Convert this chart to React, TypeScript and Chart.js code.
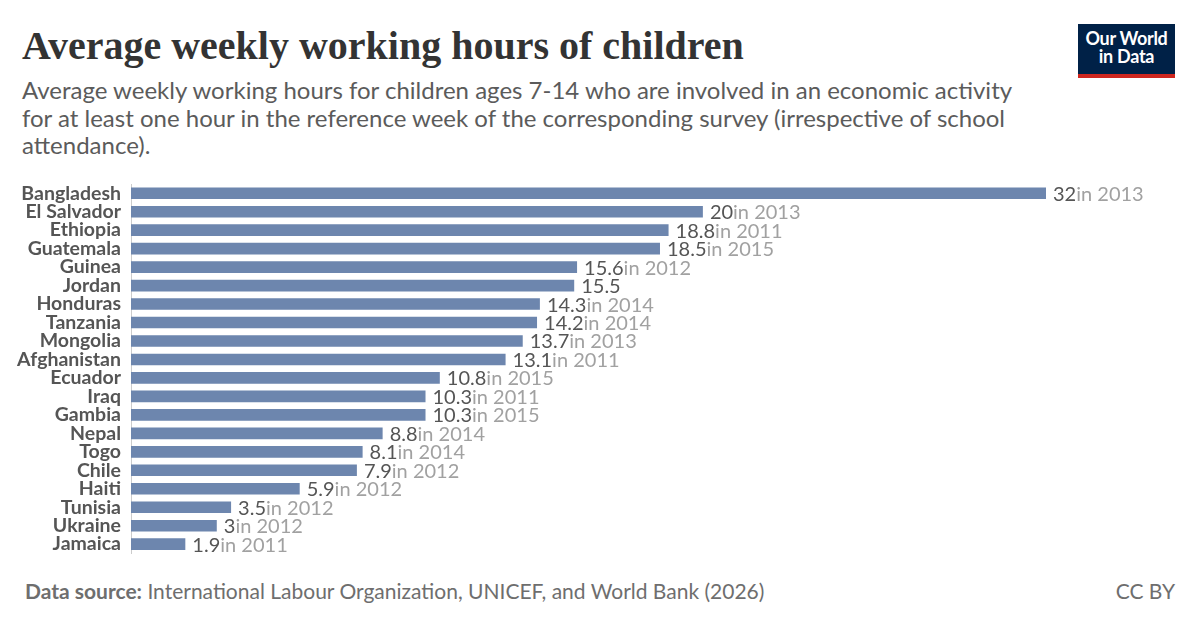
import React, { useEffect, useRef } from "react";
import { Chart, registerables } from "chart.js";

Chart.register(...registerables);

const countries = [
  "Bangladesh", "El Salvador", "Ethiopia", "Guatemala", "Guinea", "Jordan",
  "Honduras", "Tanzania", "Mongolia", "Afghanistan", "Ecuador", "Iraq",
  "Gambia", "Nepal", "Togo", "Chile", "Haiti", "Tunisia", "Ukraine", "Jamaica",
];
const hours = [32, 20, 18.8, 18.5, 15.6, 15.5, 14.3, 14.2, 13.7, 13.1, 10.8, 10.3, 10.3, 8.8, 8.1, 7.9, 5.9, 3.5, 3, 1.9];
const years = ["2013", "2013", "2011", "2015", "2012", "", "2014", "2014", "2013", "2011", "2015", "2011", "2015", "2014", "2014", "2012", "2012", "2012", "2012", "2011"];

const valueLabels = {
  id: "valueLabels",
  afterDatasetsDraw(chart: any) {
    const ctx = chart.ctx;
    const meta = chart.getDatasetMeta(0);
    ctx.save();
    ctx.font = "20px Lato";
    ctx.textBaseline = "middle";
    ctx.textAlign = "left";
    meta.data.forEach((el: any, i: number) => {
      const v = String(hours[i]);
      const x = el.x + 7;
      const y = el.y + 1;
      ctx.fillStyle = "#555555";
      ctx.fillText(v, x, y);
      const w = ctx.measureText(v).width;
      if (years[i]) {
        ctx.fillStyle = "#a1a1a1";
        ctx.fillText("in " + years[i], x + w, y);
      }
    });
    ctx.restore();
  },
};

export default function App() {
  const ref = useRef<HTMLCanvasElement>(null);
  useEffect(() => {
    if (!ref.current) return;
    const chart = new Chart(ref.current, {
      type: "bar",
      data: {
        labels: countries,
        datasets: [
          {
            data: hours,
            backgroundColor: "#6d86ae",
            borderWidth: 0,
            barPercentage: 0.63,
            categoryPercentage: 1,
          },
        ],
      },
      options: {
        indexAxis: "y",
        animation: false,
        responsive: false,
        devicePixelRatio: 1,
        layout: { padding: { left: 0, right: 154, top: 4, bottom: 6.6 } },
        plugins: { legend: { display: false }, tooltip: { enabled: false } },
        scales: {
          x: { display: false, min: 0, max: 32 },
          y: {
            type: "category",
            grid: { display: false, drawTicks: false },
            border: { display: true, color: "#cccccc", width: 1 },
            ticks: {
              font: { family: "Lato", weight: "bold", size: 19.5 },
              color: "#555555",
              padding: 10,
              autoSkip: false,
            },
            afterFit: (scale: any) => {
              scale.width = 131;
              scale.paddingTop = 0;
              scale.paddingBottom = 0;
            },
          },
        },
      },
      plugins: [valueLabels],
    });
    return () => chart.destroy();
  }, []);

  return (
    <div style={{ position: "fixed", left: 0, top: 0, width: 1200, height: 627, background: "#fff", overflow: "hidden", fontFamily: "Lato" }}>
      <div style={{ position: "absolute", left: 22, top: 23, fontFamily: "'Liberation Serif', serif", fontWeight: 700, fontSize: 40, lineHeight: "46px", color: "#333333", whiteSpace: "nowrap" }}>
        Average weekly working hours of children
      </div>
      <div style={{ position: "absolute", left: 22, top: 76, fontSize: 24, lineHeight: "27.7px", color: "#5b5b5b", whiteSpace: "nowrap" }}>
        Average weekly working hours for children ages 7-14 who are involved in an economic activity<br />
        for at least one hour in the reference week of the corresponding survey (irrespective of school<br />
        attendance).
      </div>
      <div style={{ position: "absolute", left: 1078, top: 24, width: 97, height: 54, background: "#002147" }}>
        <div style={{ position: "absolute", left: 0, right: 0, top: 6, textAlign: "center", color: "#fff", fontWeight: 700, fontSize: 18, lineHeight: "17.6px", letterSpacing: -0.3 }}>
          Our World<br />in Data
        </div>
        <div style={{ position: "absolute", left: 0, right: 0, bottom: 0, height: 4, background: "#ce261e" }} />
      </div>
      <canvas ref={ref} width={1200} height={380} style={{ position: "absolute", left: 0, top: 180, width: 1200, height: 380 }} />
      <div style={{ position: "absolute", left: 25, top: 580, fontSize: 21, lineHeight: "22px", color: "#6e6e6e", whiteSpace: "nowrap" }}>
        <span style={{ fontWeight: 700 }}>Data source:</span> International Labour Organization, UNICEF, and World Bank (2026)
      </div>
      <div style={{ position: "absolute", right: 25, top: 580, fontSize: 21, lineHeight: "22px", color: "#6e6e6e", whiteSpace: "nowrap" }}>
        CC BY
      </div>
    </div>
  );
}
